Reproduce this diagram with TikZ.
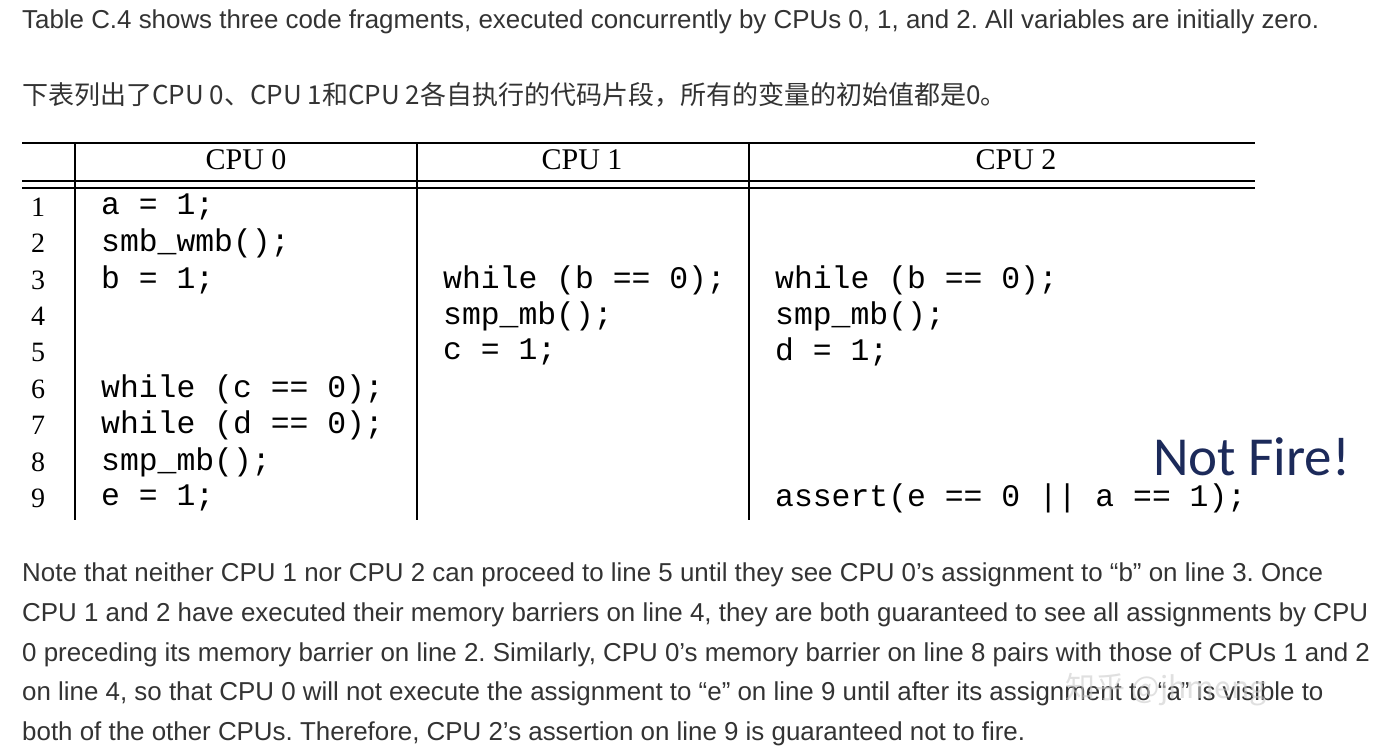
\documentclass[tikz,border=0pt]{standalone}
\usepackage{fontspec}
\setmainfont{Liberation Sans}
\newfontfamily\cjkf{Noto Sans CJK SC}
\newfontfamily\tms{Liberation Serif}
\newfontfamily\mono{Liberation Mono}
\newfontfamily\calib{Carlito}
\definecolor{txt}{HTML}{333333}
\definecolor{navy}{HTML}{1C2A5A}
\frenchspacing
\begin{document}
\begin{tikzpicture}[x=1pt,y=-1pt,
  para/.style={anchor=west,inner sep=0pt,text=txt,font=\fontsize{25.9}{28}\selectfont},
  hdr/.style={inner sep=0pt,font=\tms\fontsize{30}{32}\selectfont},
  num/.style={inner sep=0pt,font=\tms\fontsize{28}{30}\selectfont},
  code/.style={anchor=west,inner sep=0pt,font=\mono\fontsize{31.4}{32}\selectfont},
  rule/.style={line width=1.6pt}]
\useasboundingbox[fill=white] (0,0) rectangle (1389,755);
\node[para] (t1) at (22,22) {Table C.4 shows three code fragments, executed concurrently by CPUs 0, 1, and 2. All variables are initially zero.};
\node[para,font=\cjkf\fontsize{26}{28}\selectfont] (t2) at (22,95) {下表列出了CPU 0、CPU 1和CPU 2各自执行的代码片段，所有的变量的初始值都是0。};
\draw[rule] (22,143) -- (1255,143);
\draw[rule] (22,181) -- (1255,181);
\draw[rule] (22,188) -- (1255,188);
\foreach \x in {75,417,749} \draw[line width=1.6pt] (\x,143) -- (\x,520);
\node[hdr] (h0) at (246,160) {CPU 0};
\node[hdr] (h1) at (582,160) {CPU 1};
\node[hdr] (h2) at (1016,160) {CPU 2};
\foreach \i/\y in {1/207,2/243,3/280,4/316,5/352,6/389,7/425,8/462,9/498}
  \node[num] (n\i) at (38,\y) {\i};
\node[code] (a1) at (101,207) {a = 1;};
\node[code] (a2) at (101,243) {smb\_wmb();};
\node[code] (a3) at (101,280) {b = 1;};
\node[code] (a6) at (101,389) {while (c == 0);};
\node[code] (a7) at (101,425) {while (d == 0);};
\node[code] (a8) at (101,462) {smp\_mb();};
\node[code] (a9) at (101,498) {e = 1;};
\node[code] (b3) at (443,280) {while (b == 0);};
\node[code] (b4) at (443,316) {smp\_mb();};
\node[code] (b5) at (443,352) {c = 1;};
\node[code] (c3) at (775,280) {while (b == 0);};
\node[code] (c4) at (775,316) {smp\_mb();};
\node[code] (c5) at (775,352) {d = 1;};
\node[code] (c9) at (775,498) {assert(e == 0 || a == 1);};
\node[anchor=west,inner sep=0pt,text=navy,font=\calib\fontsize{55}{56}\selectfont] (nf) at (1153,457) {Not Fire!};
\node[para] (p1) at (22,575) {Note that neither CPU 1 nor CPU 2 can proceed to line 5 until they see CPU 0’s assignment to “b” on line 3. Once};
\node[para] (p2) at (22,615) {CPU 1 and 2 have executed their memory barriers on line 4, they are both guaranteed to see all assignments by CPU};
\node[para] (p3) at (22,655) {0 preceding its memory barrier on line 2. Similarly, CPU 0’s memory barrier on line 8 pairs with those of CPUs 1 and 2};
\node[para] (p4) at (22,694) {on line 4, so that CPU 0 will not execute the assignment to “e” on line 9 until after its assignment to “a” is visible to};
\node[para] (p5) at (22,734) {both of the other CPUs. Therefore, CPU 2’s assertion on line 9 is guaranteed not to fire.};
\node[anchor=west,inner sep=0pt,text=black!20,opacity=0.6,font=\cjkf\fontsize{30}{32}\selectfont] (wm) at (1065,690) {知乎 @jhmeng};
\end{tikzpicture}
\end{document}
